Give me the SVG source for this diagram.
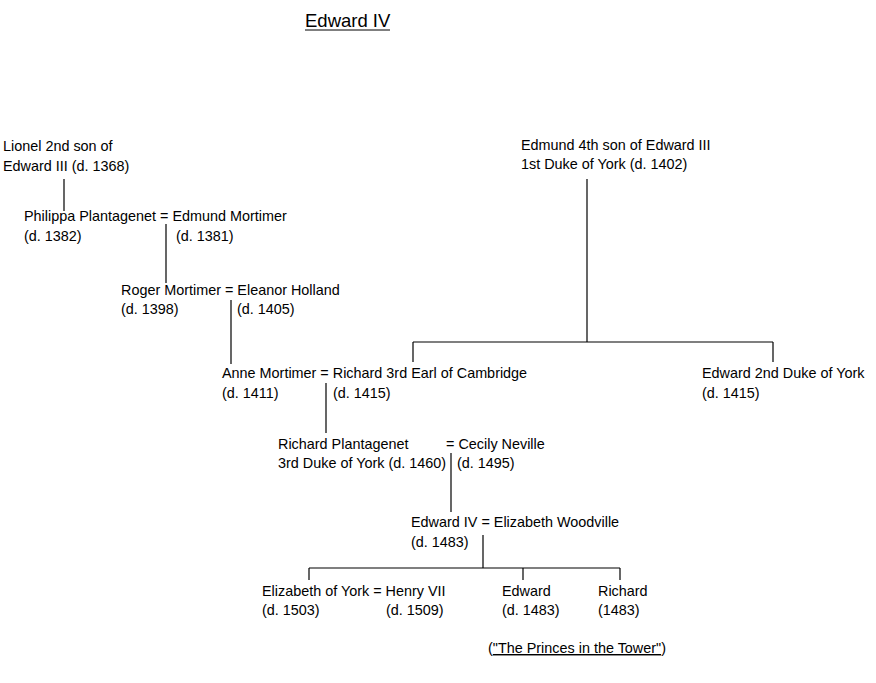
<svg xmlns="http://www.w3.org/2000/svg" width="876" height="683" viewBox="0 0 876 683">
<style>
text { font-family: "Liberation Sans", Arial, sans-serif; font-size: 14.4px; fill: #000; }
.title { font-size: 18.5px; }
.c line { stroke: #000; stroke-width: 1.2; }
.u { stroke: #000; stroke-width: 1; }
</style>
<rect width="876" height="683" fill="#fff"/>
<g id="title">
<text class="title" x="305" y="27">Edward IV</text>
<line class="u" x1="305" y1="30" x2="390" y2="30"/>
</g>
<g class="c" id="connectors">
<line x1="64" y1="179" x2="64" y2="211"/>
<line x1="166" y1="224" x2="166" y2="283"/>
<line x1="231" y1="300" x2="231" y2="364"/>
<line x1="587" y1="179" x2="587" y2="342"/>
<line x1="413" y1="342" x2="773" y2="342"/>
<line x1="413" y1="342" x2="413" y2="362"/>
<line x1="773" y1="342" x2="773" y2="362"/>
<line x1="326" y1="383" x2="326" y2="433"/>
<line x1="451" y1="453" x2="451" y2="512"/>
<line x1="483" y1="535" x2="483" y2="568"/>
<line x1="309" y1="568" x2="620" y2="568"/>
<line x1="309" y1="568" x2="309" y2="580"/>
<line x1="523" y1="568" x2="523" y2="580"/>
<line x1="620" y1="568" x2="620" y2="580"/>
</g>
<g id="lionel">
<text x="3" y="151">Lionel 2nd son of</text>
<text x="3" y="171">Edward III (d. 1368)</text>
</g>
<g id="edmund">
<text x="521" y="150">Edmund 4th son of Edward III</text>
<text x="521" y="169">1st Duke of York (d. 1402)</text>
</g>
<g id="philippa">
<text x="24" y="221">Philippa Plantagenet = Edmund Mortimer</text>
<text x="24" y="241">(d. 1382)</text>
<text x="176" y="241">(d. 1381)</text>
</g>
<g id="roger">
<text x="121" y="295">Roger Mortimer = Eleanor Holland</text>
<text x="121" y="314">(d. 1398)</text>
<text x="237" y="314">(d. 1405)</text>
</g>
<g id="anne">
<text x="222" y="378">Anne Mortimer = Richard 3rd Earl of Cambridge</text>
<text x="222" y="398">(d. 1411)</text>
<text x="333" y="398">(d. 1415)</text>
</g>
<g id="edward2">
<text x="702" y="378">Edward 2nd Duke of York</text>
<text x="702" y="398">(d. 1415)</text>
</g>
<g id="richardp">
<text x="278" y="449">Richard Plantagenet</text>
<text x="446" y="449">= Cecily Neville</text>
<text x="278" y="468">3rd Duke of York (d. 1460)</text>
<text x="457" y="468">(d. 1495)</text>
</g>
<g id="edward4">
<text x="411" y="527">Edward IV = Elizabeth Woodville</text>
<text x="411" y="547">(d. 1483)</text>
</g>
<g id="elizabeth">
<text x="262" y="596">Elizabeth of York = Henry VII</text>
<text x="262" y="615">(d. 1503)</text>
<text x="386" y="615">(d. 1509)</text>
</g>
<g id="edwardp">
<text x="502" y="596">Edward</text>
<text x="502" y="615">(d. 1483)</text>
</g>
<g id="richard">
<text x="598" y="596">Richard</text>
<text x="598" y="615">(1483)</text>
</g>
<g id="princes">
<text x="488" y="653">(<tspan text-decoration="underline">"The Princes in the Tower"</tspan>)</text>
</g>
</svg>
